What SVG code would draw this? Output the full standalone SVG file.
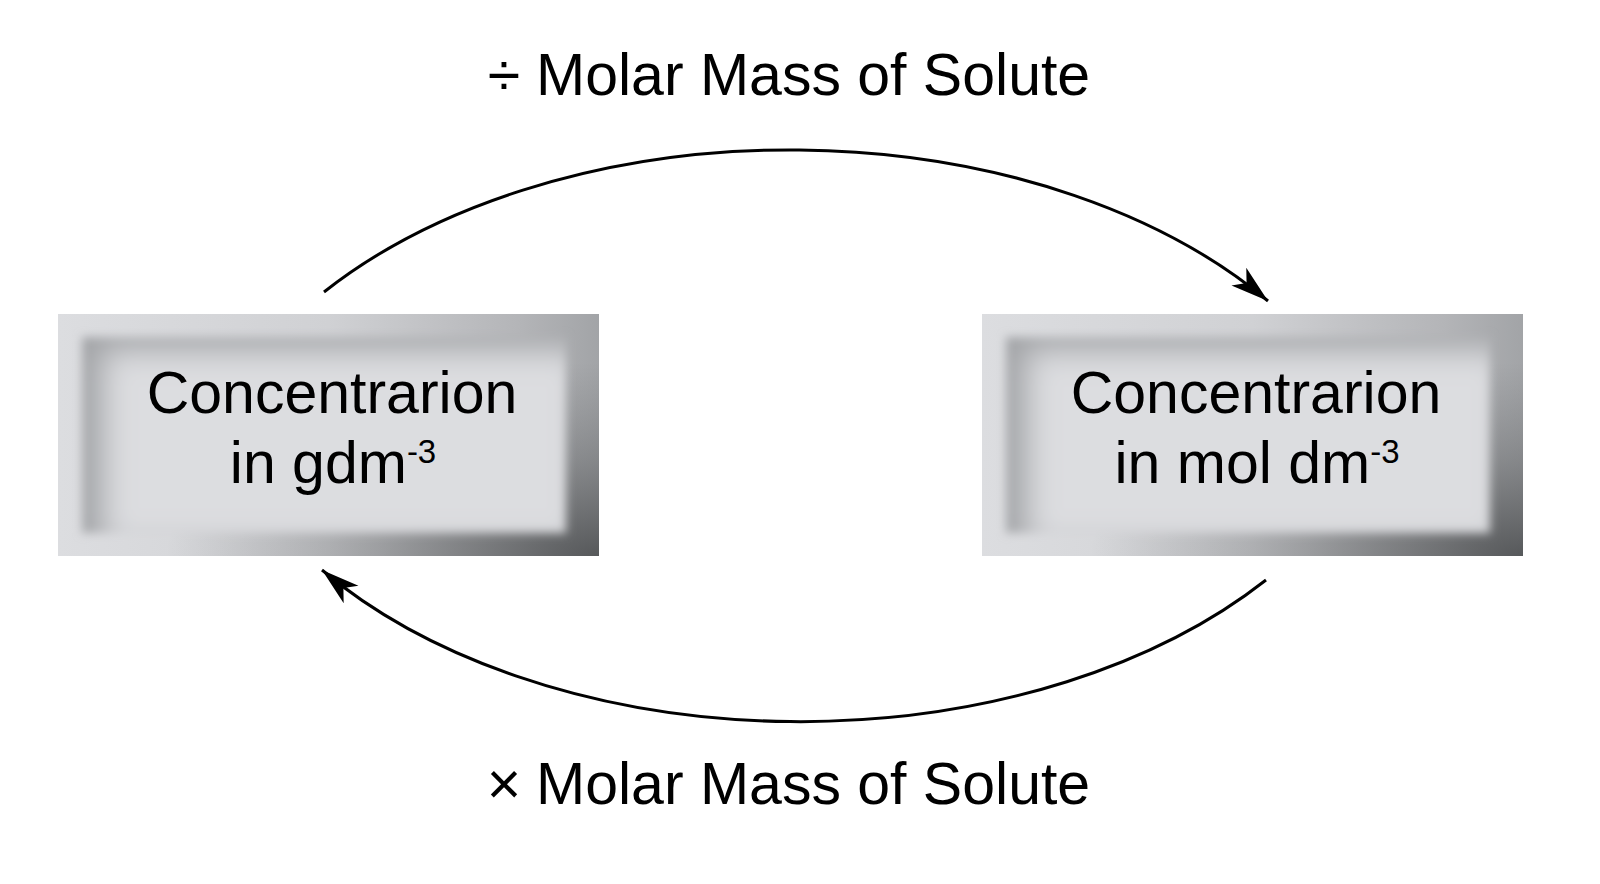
<svg xmlns="http://www.w3.org/2000/svg" width="1600" height="884" viewBox="0 0 1600 884">
<style>
.lbl{font-family:"Liberation Sans",Arial,sans-serif;fill:#000}
.big{font-size:59px}
.sup{font-size:33px}
.conn{fill:none;stroke:#000;stroke-width:3}
</style>
<defs>
<linearGradient id="baseG" x1="0" y1="0" x2="1" y2="0">
<stop offset="0" stop-color="#dcdde0"/>
<stop offset="0.5" stop-color="#d0d1d4"/>
<stop offset="0.85" stop-color="#b4b5b8"/>
<stop offset="1" stop-color="#a2a4a7"/>
</linearGradient>
<radialGradient id="cornerG" cx="1" cy="1" r="0.8">
<stop offset="0" stop-color="#4e5052" stop-opacity="0.9"/>
<stop offset="0.5" stop-color="#5a5c5e" stop-opacity="0.4"/>
<stop offset="1" stop-color="#6a6c6e" stop-opacity="0"/>
</radialGradient>
<clipPath id="innerClip"><rect x="24" y="23" width="484" height="196"/></clipPath>
<filter id="soft" x="-5%" y="-5%" width="110%" height="110%"><feGaussianBlur stdDeviation="5"/></filter>
<filter id="blurS" x="-10%" y="-10%" width="120%" height="120%"><feGaussianBlur stdDeviation="15"/></filter>
<marker id="ah" viewBox="-40 -14 42 28" refX="0" refY="0" markerWidth="42" markerHeight="28" markerUnits="userSpaceOnUse" orient="auto">
<path d="M0,0 L-38,-11.5 L-28,0 L-38,11.5 Z" fill="#000"/>
</marker>
<g id="boxShape">
<rect x="0" y="0" width="541" height="242" fill="url(#baseG)"/>
<rect x="0" y="0" width="541" height="242" fill="url(#cornerG)"/>
<g filter="url(#soft)">
<g clip-path="url(#innerClip)">
<rect x="24" y="23" width="484" height="196" fill="#dcdde0"/>
<path d="M0,0 H541 V242 H0 Z M44,35 V232 H526 V35 Z" fill="#a0a2a5" fill-rule="evenodd" filter="url(#blurS)"/>
</g>
</g>
</g>
</defs>
<rect width="1600" height="884" fill="#fff"/>
<g id="connectors">
<path class="conn" d="M324,292 A600,383 0 0 1 1268,301" marker-end="url(#ah)"/>
<path class="conn" d="M1266,580 A600,383 0 0 1 322,570" marker-end="url(#ah)"/>
</g>
<g id="node-left">
<use href="#boxShape" x="58" y="314"/>
<text class="lbl big" x="332" y="413" text-anchor="middle">Concentrarion</text>
<text class="lbl big" x="333" y="483" text-anchor="middle">in gdm<tspan class="sup" dy="-20">-3</tspan></text>
</g>
<g id="node-right">
<use href="#boxShape" x="982" y="314"/>
<text class="lbl big" x="1256" y="413" text-anchor="middle">Concentrarion</text>
<text class="lbl big" x="1257" y="483" text-anchor="middle">in mol dm<tspan class="sup" dy="-20">-3</tspan></text>
</g>
<g id="label-top">
<text class="lbl big" x="504" y="95" text-anchor="middle">÷</text>
<text class="lbl big" x="536" y="95">Molar Mass of Solute</text>
</g>
<g id="label-bottom">
<text class="lbl big" x="504" y="804" text-anchor="middle">×</text>
<text class="lbl big" x="536" y="804">Molar Mass of Solute</text>
</g>
</svg>
